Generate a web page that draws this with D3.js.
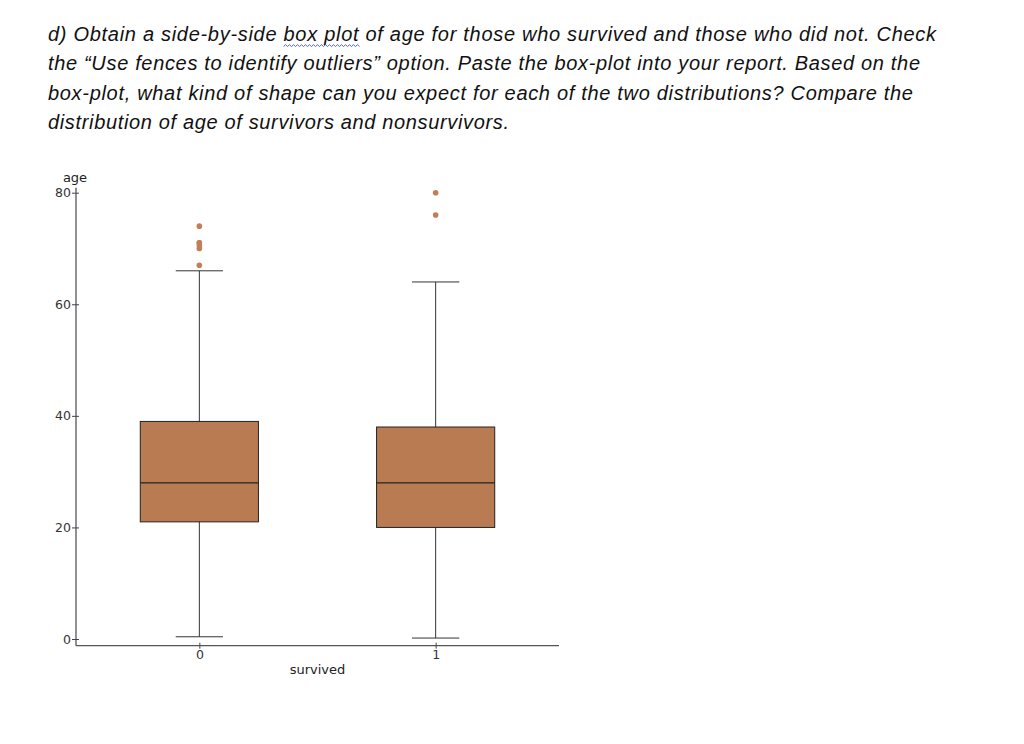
<!DOCTYPE html>
<html>
<head>
<meta charset="utf-8">
<script src="https://cdn.jsdelivr.net/npm/d3@7"></script>
<style>
  body { margin: 0; background: #fff; }
  svg { display: block; }
</style>
</head>
<body>
<div id="main"></div>
<script>
// question text, one entry per line
var questionLines = [
  "d) Obtain a side-by-side box plot of age for those who survived and those who did not. Check",
  "the \u201cUse fences to identify outliers\u201d option. Paste the box-plot into your report. Based on the",
  "box-plot, what kind of shape can you expect for each of the two distributions? Compare the",
  "distribution of age of survivors and nonsurvivors."
]
var lineWidths = [888, 872, 865, 461]

// groups and five-number summaries
var groups = ["0", "1"]
var lowWhisker = [0.4, 0.17]
var q1 = [21, 20]
var median = [28, 28]
var q3 = [39, 38]
var highWhisker = [66, 64]
var outliers = [
  [67, 70, 70.5, 71, 71, 74],
  [76, 80]
]
var yTicks = [0, 20, 40, 60, 80]

var boxColor = "#b97c52"

var svg = d3.select("#main").append("svg").attr("width", 1024).attr("height", 744)

// header text
var header = svg.append("g").attr("font-family", "'Liberation Sans', Arial, sans-serif")
  .attr("font-style", "italic").attr("font-size", "20px").attr("fill", "#111")
header.selectAll("text")
  .data(questionLines)
  .enter()
  .append("text")
  .attr("x", 48)
  .attr("y", (d, i) => 41 + i * 29.3)
  .attr("textLength", (d, i) => lineWidths[i])
  .attr("lengthAdjust", "spacing")
  .text(d => d)

// spell-check squiggle under "box plot"
var firstLine = header.select("text").node()
var idx = questionLines[0].indexOf("box plot")
var p0 = firstLine.getStartPositionOfChar(idx).x
var p1 = firstLine.getEndPositionOfChar(idx + 7).x
var wave = d3.path()
wave.moveTo(p0, 46.5)
for (var k = 0; p0 + k * 2 < p1; k++) {
  wave.lineTo(p0 + k * 2 + 2, k % 2 ? 46.5 : 44.7)
}
svg.append("path").attr("d", wave.toString()).attr("fill", "none")
  .attr("stroke", "#3f53d4").attr("stroke-width", 0.9)

// plot area
var plotLeft = 76, plotRight = 559, plotTop = 192.7, plotBottom = 645.7

var x = d3.scalePoint().domain(groups).range([plotLeft, plotRight]).padding(0.522)
var y = d3.scaleLinear().domain([-1.2, 80]).range([plotBottom, plotTop])
var boxW = x.step() * 0.5

var data = groups.map((g, i) => ({
  g: g, lo: lowWhisker[i], q1: q1[i], med: median[i], q3: q3[i], hi: highWhisker[i], out: outliers[i]
}))

var plot = svg.append("g")

// whiskers
plot.selectAll(".whisker")
  .data(data)
  .enter()
  .append("line")
  .attr("class", "whisker")
  .attr("x1", d => x(d.g)).attr("x2", d => x(d.g))
  .attr("y1", d => y(d.lo)).attr("y2", d => y(d.hi))
  .attr("stroke", "#333").attr("stroke-width", 1)

plot.selectAll(".capHi")
  .data(data)
  .enter()
  .append("line")
  .attr("class", "capHi")
  .attr("x1", d => x(d.g) - boxW * 0.2).attr("x2", d => x(d.g) + boxW * 0.2)
  .attr("y1", d => y(d.hi)).attr("y2", d => y(d.hi))
  .attr("stroke", "#333").attr("stroke-width", 1)

plot.selectAll(".capLo")
  .data(data)
  .enter()
  .append("line")
  .attr("class", "capLo")
  .attr("x1", d => x(d.g) - boxW * 0.2).attr("x2", d => x(d.g) + boxW * 0.2)
  .attr("y1", d => y(d.lo)).attr("y2", d => y(d.lo))
  .attr("stroke", "#333").attr("stroke-width", 1)

// boxes
plot.selectAll(".box")
  .data(data)
  .enter()
  .append("rect")
  .attr("class", "box")
  .attr("x", d => x(d.g) - boxW / 2)
  .attr("width", boxW)
  .attr("y", d => y(d.q3))
  .attr("height", d => y(d.q1) - y(d.q3))
  .attr("fill", boxColor)
  .attr("stroke", "#222").attr("stroke-width", 1)

plot.selectAll(".median")
  .data(data)
  .enter()
  .append("line")
  .attr("class", "median")
  .attr("x1", d => x(d.g) - boxW / 2).attr("x2", d => x(d.g) + boxW / 2)
  .attr("y1", d => y(d.med)).attr("y2", d => y(d.med))
  .attr("stroke", "#222").attr("stroke-width", 1.2)

// outliers
data.forEach(d => {
  plot.selectAll(null)
    .data(d.out)
    .enter()
    .append("circle")
    .attr("cx", x(d.g))
    .attr("cy", v => y(v))
    .attr("r", 2.8)
    .attr("fill", "#c27f55")
})

// axes
var yAxis = svg.append("g")
  .attr("transform", `translate(${plotLeft},0)`)
  .call(d3.axisLeft(y).tickValues(yTicks).tickSize(4).tickSizeOuter(0))
yAxis.select(".domain").attr("d", `M0,${plotTop - 5}V${plotBottom}`)
yAxis.selectAll(".tick line").attr("x1", 3)

var xAxis = svg.append("g")
  .attr("transform", `translate(0,${plotBottom})`)
  .call(d3.axisBottom(x).tickSize(3).tickSizeOuter(0))
xAxis.select(".domain").attr("d", `M${plotLeft},0H${plotRight}`)
xAxis.selectAll(".tick line").attr("y1", -3)

svg.selectAll(".domain").attr("stroke", "#555").attr("stroke-width", 1.3)
svg.selectAll(".tick line").attr("stroke", "#444")
svg.selectAll(".tick text")
  .attr("font-family", "'DejaVu Sans', Verdana, sans-serif")
  .attr("font-size", "12.5px")
  .attr("fill", "#333")
xAxis.selectAll(".tick text").attr("dy", "0.55em")
yAxis.selectAll(".tick text").attr("x", -5)

// axis titles
svg.append("text")
  .attr("x", 75).attr("y", 182)
  .attr("text-anchor", "middle")
  .attr("font-family", "'DejaVu Sans', Verdana, sans-serif")
  .attr("font-size", "13px").attr("fill", "#222")
  .text("age")

svg.append("text")
  .attr("x", (plotLeft + plotRight) / 2).attr("y", 674)
  .attr("text-anchor", "middle")
  .attr("font-family", "'DejaVu Sans', Verdana, sans-serif")
  .attr("font-size", "13px").attr("fill", "#222")
  .text("survived")
</script>
</body>
</html>
